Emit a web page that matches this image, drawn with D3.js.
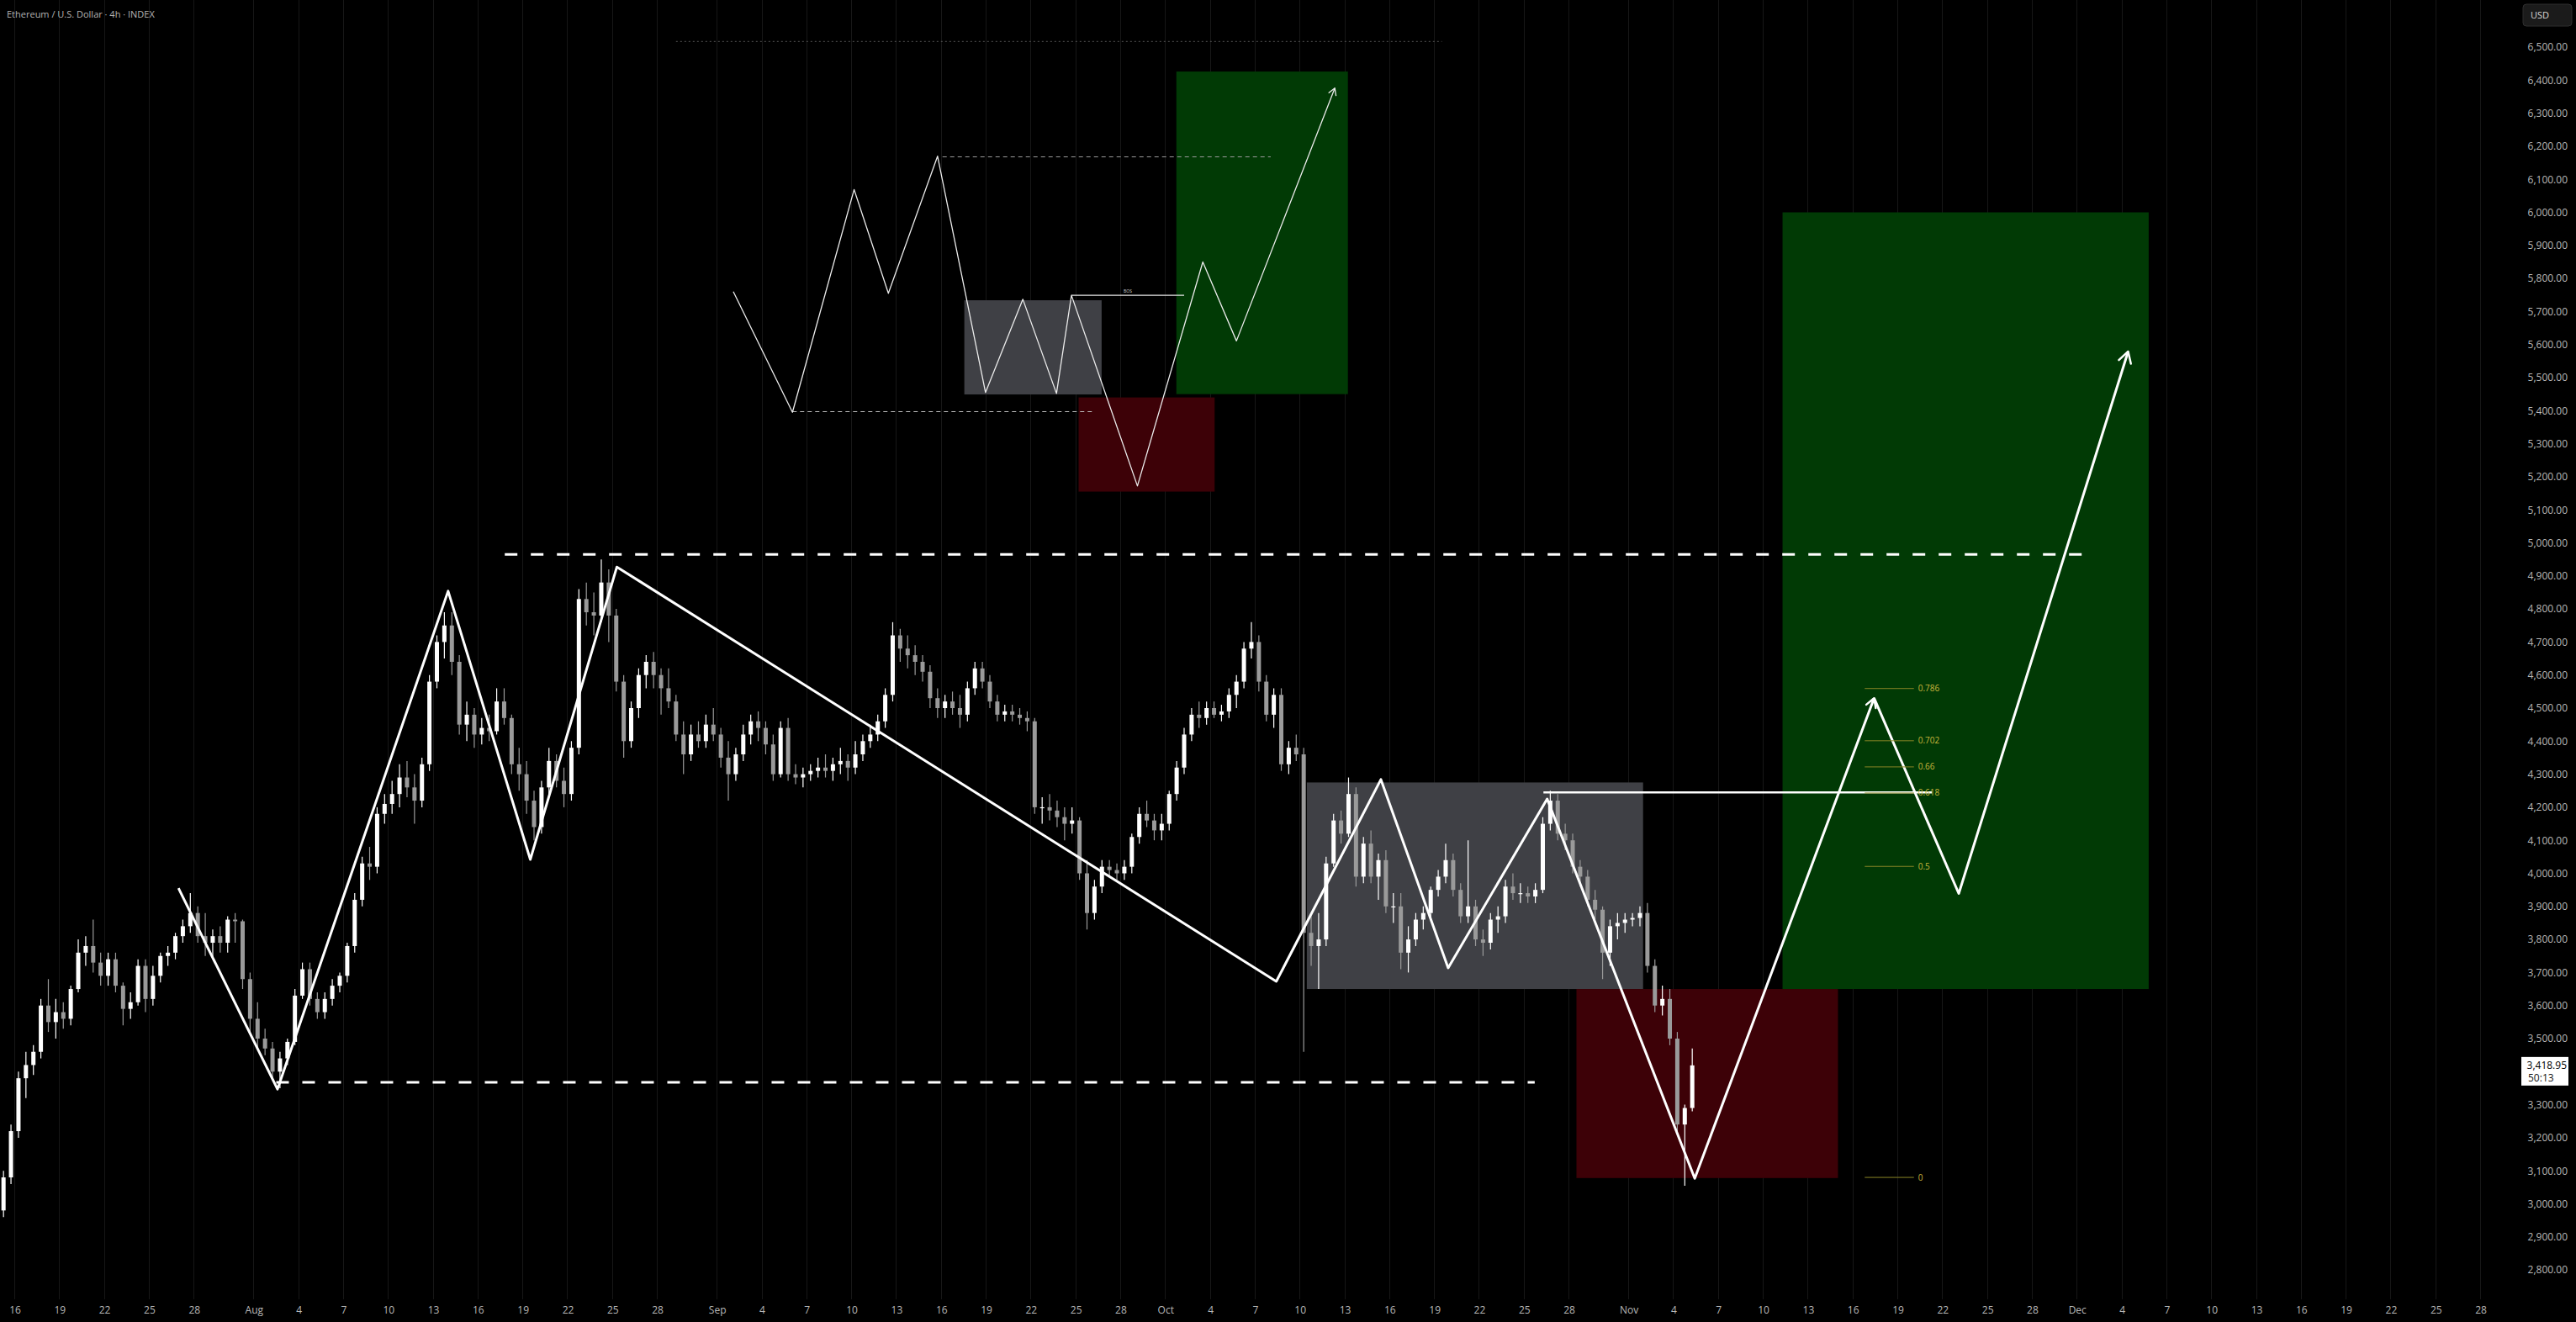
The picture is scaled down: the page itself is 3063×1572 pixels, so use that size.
<!DOCTYPE html>
<html><head><meta charset="utf-8">
<script src="https://cdn.jsdelivr.net/npm/d3@7"></script>
<style>html,body{margin:0;padding:0;background:#000;overflow:hidden}svg{display:block}</style>
</head><body>
<svg id="c" width="3063" height="1572"></svg>
<script>
// ---------------- DATA ----------------
const title = "Ethereum / U.S. Dollar · 4h · INDEX";
const candleStart = "2025-07-15T00:00:00Z";
const candleHours = 12;
// [open, high, low, close] per 12h bar
const candles = [
[2980,3100,2960,3080],[3080,3240,3060,3220],
[3220,3400,3200,3380],[3380,3460,3320,3420],
[3420,3480,3390,3460],[3460,3620,3440,3600],
[3600,3680,3520,3550],[3550,3620,3500,3580],
[3580,3610,3530,3560],[3560,3660,3540,3650],
[3650,3800,3640,3760],[3760,3810,3720,3780],
[3780,3860,3700,3730],[3730,3760,3660,3690],
[3690,3760,3660,3740],[3740,3760,3640,3660],
[3660,3670,3540,3590],[3590,3640,3560,3610],
[3610,3740,3600,3720],[3720,3740,3580,3620],
[3620,3720,3600,3690],[3690,3760,3670,3750],
[3750,3780,3720,3760],[3760,3820,3740,3810],
[3810,3860,3790,3840],[3840,3940,3820,3880],
[3880,3900,3790,3810],[3810,3880,3750,3790],
[3790,3830,3740,3810],[3810,3840,3760,3790],
[3790,3870,3760,3860],[3860,3880,3790,3855],
[3855,3860,3650,3680],[3680,3700,3520,3560],
[3560,3610,3470,3500],[3500,3530,3450,3470],
[3470,3490,3380,3400],[3400,3460,3350,3440],
[3440,3500,3420,3490],[3490,3650,3480,3630],
[3630,3730,3620,3710],[3710,3730,3600,3620],
[3620,3640,3560,3580],[3580,3640,3560,3620],
[3620,3680,3600,3660],[3660,3700,3640,3690],
[3690,3790,3670,3780],[3780,3940,3760,3920],
[3920,4050,3900,4030],[4030,4080,3980,4020],
[4020,4200,4000,4180],[4180,4240,4150,4210],
[4210,4280,4180,4240],[4240,4330,4200,4290],
[4290,4340,4230,4260],[4260,4300,4150,4220],
[4220,4350,4200,4330],[4330,4600,4310,4580],
[4580,4720,4560,4700],[4700,4790,4650,4750],
[4750,4790,4600,4640],[4640,4660,4420,4450],
[4450,4520,4400,4480],[4480,4500,4380,4420],
[4420,4470,4390,4440],[4440,4480,4400,4430],
[4430,4560,4420,4520],[4520,4560,4450,4470],
[4470,4480,4300,4330],[4330,4380,4250,4300],
[4300,4340,4180,4220],[4220,4250,4100,4140],
[4140,4280,4120,4260],[4260,4380,4230,4340],
[4340,4360,4260,4280],[4280,4320,4200,4240],
[4240,4400,4220,4380],[4380,4860,4360,4830],
[4830,4880,4750,4790],[4790,4850,4720,4780],
[4780,4950,4760,4880],[4880,4920,4700,4780],
[4780,4800,4550,4580],[4580,4600,4350,4400],
[4400,4520,4380,4500],[4500,4620,4470,4600],
[4600,4660,4560,4640],[4640,4670,4560,4600],
[4600,4620,4480,4560],[4560,4620,4500,4520],
[4520,4540,4400,4420],[4420,4460,4300,4360],
[4360,4450,4340,4420],[4420,4460,4380,4400],
[4400,4480,4380,4450],[4450,4500,4400,4420],
[4420,4440,4320,4350],[4350,4400,4220,4300],
[4300,4380,4280,4360],[4360,4450,4340,4420],
[4420,4480,4390,4460],[4460,4490,4400,4440],
[4440,4460,4360,4390],[4390,4420,4280,4300],
[4300,4460,4290,4440],[4440,4470,4280,4300],
[4300,4330,4270,4290],[4290,4320,4260,4300],
[4300,4330,4280,4310],[4310,4350,4290,4320],
[4320,4360,4290,4310],[4310,4350,4280,4330],
[4330,4380,4300,4340],[4340,4360,4280,4320],
[4320,4400,4300,4360],[4360,4420,4340,4400],
[4400,4450,4380,4420],[4420,4480,4400,4460],
[4460,4560,4440,4540],[4540,4760,4520,4720],
[4720,4740,4640,4680],[4680,4720,4620,4660],
[4660,4690,4600,4640],[4640,4660,4580,4610],
[4610,4630,4500,4530],[4530,4560,4470,4500],
[4500,4540,4470,4520],[4520,4550,4480,4500],
[4500,4540,4440,4480],[4480,4580,4460,4560],
[4560,4640,4540,4620],[4620,4640,4560,4580],
[4580,4600,4500,4520],[4520,4540,4460,4480],
[4480,4510,4460,4490],[4490,4510,4460,4480],
[4480,4500,4450,4470],[4470,4490,4430,4460],
[4460,4470,4180,4200],[4200,4230,4150,4200],
[4200,4240,4160,4190],[4190,4220,4140,4170],
[4170,4200,4100,4150],[4150,4200,4120,4160],
[4160,4170,3980,4000],[4000,4040,3830,3880],
[3880,3980,3860,3960],[3960,4040,3940,4020],
[4020,4040,3990,4010],[4010,4030,3980,4000],
[4000,4040,3980,4020],[4020,4120,4000,4110],
[4110,4200,4090,4180],[4180,4220,4140,4160],
[4160,4180,4100,4130],[4130,4180,4100,4150],
[4150,4250,4130,4240],[4240,4340,4220,4320],
[4320,4440,4300,4420],[4420,4500,4400,4480],
[4480,4520,4440,4470],[4470,4520,4450,4500],
[4500,4520,4470,4480],[4480,4510,4460,4490],
[4490,4560,4470,4540],[4540,4600,4500,4580],
[4580,4700,4560,4680],[4680,4760,4650,4700],
[4700,4720,4550,4580],[4580,4600,4460,4480],
[4480,4560,4440,4540],[4540,4560,4310,4330],
[4330,4400,4300,4380],[4380,4420,4340,4360],
[4360,4380,3460,3820],[3820,3870,3720,3780],
[3780,3880,3650,3800],[3800,4050,3780,4030],
[4030,4180,4020,4160],[4160,4190,4090,4120],
[4120,4290,4110,4240],[4240,4260,3960,3990],
[3990,4110,3970,4090],[4090,4130,3970,3990],
[3990,4060,3920,4040],[4040,4070,3880,3900],
[3900,3940,3850,3900],[3900,3940,3710,3760],
[3760,3840,3700,3800],[3800,3880,3780,3860],
[3860,3900,3830,3880],[3880,3960,3860,3950],
[3950,4010,3930,3990],[3990,4090,3970,4040],
[4040,4060,3930,3950],[3950,3970,3850,3870],
[3870,4100,3850,3900],[3900,3920,3780,3800],
[3800,3830,3750,3790],[3790,3880,3770,3860],
[3860,3900,3820,3870],[3870,3980,3850,3960],
[3960,4000,3920,3940],[3940,3970,3910,3940],
[3940,3960,3910,3930],[3930,3970,3910,3950],
[3950,4170,3940,4150],[4150,4250,4130,4220],
[4220,4240,4100,4120],[4120,4150,4070,4100],
[4100,4120,4000,4020],[4020,4040,3960,3990],
[3990,4010,3900,3920],[3920,3950,3860,3890],
[3890,3900,3680,3760],[3760,3860,3720,3840],
[3840,3880,3800,3850],[3850,3880,3820,3860],
[3860,3880,3840,3865],[3865,3900,3840,3880],
[3880,3910,3700,3720],[3720,3740,3580,3600],
[3600,3660,3570,3620],[3620,3650,3480,3500],
[3500,3520,3220,3240],[3240,3300,3055,3290],
[3290,3470,3280,3419]
];
const lastPrice = 3418.95;
const countdown = "50:13";

// 3,400 is hidden behind the last-price label in the reference
const priceTicks = [2800,2900,3000,3100,3200,3300,3500,3600,3700,3800,3900,4000,4100,4200,4300,4400,4500,4600,4700,4800,4900,5000,5100,5200,5300,5400,5500,5600,5700,5800,5900,6000,6100,6200,6300,6400,6500];
const timeTickDates = ["2025-07-16","2025-07-19","2025-07-22","2025-07-25","2025-07-28","2025-08-01","2025-08-04","2025-08-07","2025-08-10","2025-08-13","2025-08-16","2025-08-19","2025-08-22","2025-08-25","2025-08-28","2025-09-01","2025-09-04","2025-09-07","2025-09-10","2025-09-13","2025-09-16","2025-09-19","2025-09-22","2025-09-25","2025-09-28","2025-10-01","2025-10-04","2025-10-07","2025-10-10","2025-10-13","2025-10-16","2025-10-19","2025-10-22","2025-10-25","2025-10-28","2025-11-01","2025-11-04","2025-11-07","2025-11-10","2025-11-13","2025-11-16","2025-11-19","2025-11-22","2025-11-25","2025-11-28","2025-12-01","2025-12-04","2025-12-07","2025-12-10","2025-12-13","2025-12-16","2025-12-19","2025-12-22","2025-12-25","2025-12-28"];
const timeTickLabels = ["16","19","22","25","28","Aug","4","7","10","13","16","19","22","25","28","Sep","4","7","10","13","16","19","22","25","28","Oct","4","7","10","13","16","19","22","25","28","Nov","4","7","10","13","16","19","22","25","28","Dec","4","7","10","13","16","19","22","25","28"];

// main drawings (time, price)
const zigzagMain = [["2025-07-26T23:00Z",3955],["2025-08-02T14:00Z",3347],["2025-08-14T00:00Z",4854],["2025-08-19T12:00Z",4042],["2025-08-25T07:00Z",4927],["2025-10-08T10:00Z",3673],["2025-10-15T10:00Z",4284],["2025-10-19T22:00Z",3714],["2025-10-26T13:00Z",4225],["2025-11-05T10:00Z",3077],["2025-11-17T10:00Z",4530]];
const zigzagProjection = [["2025-11-17T10:00Z",4530],["2025-11-23T02:00Z",3939],["2025-12-04T10:00Z",5579]];
const upperDashed = [["2025-08-17T19:00Z",4965],["2025-12-01T14:00Z",4965]];
const lowerDashed = [["2025-08-02T12:00Z",3368],["2025-10-25T17:00Z",3368]];
const rangeHighLine = [["2025-10-26T07:00Z",4245],["2025-11-21T07:00Z",4245]];
const rangeBox = {t0:"2025-10-10T11:00Z", t1:"2025-11-01T23:00Z", p0:3650, p1:4275};
const stopBox = {t0:"2025-10-28T12:00Z", t1:"2025-11-15T00:00Z", p0:3078, p1:3650};
const targetBox = {t0:"2025-11-11T07:00Z", t1:"2025-12-05T19:00Z", p0:3650, p1:6000};
const fibLevels = [0, 0.5, 0.618, 0.66, 0.702, 0.786];
const fibLabels = ["0","0.5","0.618","0.66","0.702","0.786"];
const fibLow = 3080, fibHigh = 4962;
const fibSpan = ["2025-11-16T19:00Z","2025-11-20T02:00Z"];

// inset schematic (time, price)
const insetPath = [["2025-09-02T02:00Z",5760],["2025-09-06T01:00Z",5395],["2025-09-10T04:00Z",6069],["2025-09-12T11:00Z",5755],["2025-09-15T18:00Z",6170],["2025-09-18T23:00Z",5455],["2025-09-21T11:00Z",5737],["2025-09-23T17:00Z",5452],["2025-09-24T17:00Z",5749],["2025-09-29T03:00Z",5172],["2025-10-03T12:00Z",5850],["2025-10-05T18:00Z",5611],["2025-10-12T08:00Z",6376]];
const insetGray = {t0:"2025-09-17T13:00Z", t1:"2025-09-26T17:30Z", p0:5449, p1:5734};
const insetRed = {t0:"2025-09-25T04:30Z", t1:"2025-10-04T07:00Z", p0:5155, p1:5440};
const insetGreen = {t0:"2025-10-01T17:30Z", t1:"2025-10-13T05:00Z", p0:5450, p1:6426};
const insetHighDashed = [["2025-09-16T02:00Z",6168],["2025-10-08T01:00Z",6168]];
const insetLowDashed = [["2025-09-06T01:00Z",5397],["2025-09-26T07:00Z",5397]];
const insetBreakLine = [["2025-09-24T17:00Z",5749],["2025-10-02T06:00Z",5749]];
const insetBreakText = "BOS";
const topDotted = [["2025-08-29T06:00Z",6517],["2025-10-19T12:00Z",6517]];

// ---------------- CHART ----------------
const svg = d3.select("#c");
const W = 3063, H = 1572, plotBottom = 1545;
svg.append("rect").attr("width",W).attr("height",H).attr("fill","#000");

const x = d3.scaleUtc().domain([new Date("2025-07-16T00:00:00Z"), new Date("2025-12-28T00:00:00Z")]).range([17.5, 2949.55]);
const y = d3.scaleLinear().domain([2800, 6500]).range([1510.1, 56]);
const T = s => new Date(s);
const FONT = "'Open Sans', 'DejaVu Sans', sans-serif";

// grid
const tickDates = timeTickDates.map(s => new Date(s + "T00:00:00Z"));
svg.append("g").selectAll("line").data(tickDates).join("line")
  .attr("x1", d => x(d)).attr("x2", d => x(d)).attr("y1", 0).attr("y2", plotBottom)
  .attr("stroke", "#171717").attr("stroke-width", 1).attr("shape-rendering","crispEdges");

const plot = svg.append("g");
function box(b, fill){
  plot.append("rect").attr("x", x(T(b.t0))).attr("width", x(T(b.t1)) - x(T(b.t0)))
    .attr("y", y(b.p1)).attr("height", y(b.p0) - y(b.p1)).attr("fill", fill);
}
box(rangeBox, "#3f4045");
box(stopBox, "#3d0107");
box(targetBox, "#013a05");
box(insetGray, "#3f4045");
box(insetRed, "#3d0107");
box(insetGreen, "#013a05");

// candles
const t0 = new Date(candleStart).getTime();
const HR = 3600e3;
const cg = plot.append("g");
candles.forEach((c, i) => {
  const t = new Date(t0 + (i * candleHours + candleHours / 2) * HR);
  const cx = x(t);
  const up = c[3] >= c[0];
  const col = up ? "#ffffff" : "#9a9a9a";
  cg.append("line").attr("x1", cx).attr("x2", cx).attr("y1", y(c[1])).attr("y2", y(c[2]))
    .attr("stroke", col).attr("stroke-width", 1.2);
  const top = y(Math.max(c[0], c[3])), bot = y(Math.min(c[0], c[3]));
  cg.append("rect").attr("x", cx - 2.5).attr("width", 5).attr("y", top).attr("height", Math.max(1.2, bot - top)).attr("fill", col);
});

const line = d3.line().x(d => x(T(d[0]))).y(d => y(d[1]));
function path(data, stroke, width, dash){
  const p = plot.append("path").attr("d", line(data)).attr("fill","none").attr("stroke", stroke)
    .attr("stroke-width", width).attr("stroke-linejoin","round").attr("stroke-linecap","butt");
  if (dash) p.attr("stroke-dasharray", dash);
  return p;
}
function arrowHead(data, stroke, width, len){
  const n = data.length;
  const px = x(T(data[n-1][0])), py = y(data[n-1][1]);
  const qx = x(T(data[n-2][0])), qy = y(data[n-2][1]);
  const a = Math.atan2(py - qy, px - qx);
  const a1 = a + Math.PI * 5 / 6, a2 = a - Math.PI * 5 / 6;
  plot.append("path")
    .attr("d", `M${px + len*Math.cos(a1)},${py + len*Math.sin(a1)}L${px},${py}L${px + len*Math.cos(a2)},${py + len*Math.sin(a2)}`)
    .attr("fill","none").attr("stroke", stroke).attr("stroke-width", width).attr("stroke-linejoin","round").attr("stroke-linecap","round");
}

// inset schematic
path(topDotted, "#555", 1, "2,3");
path(insetHighDashed, "#9a9a9a", 1.2, "5,4");
path(insetLowDashed, "#bdbdbd", 1.2, "5,4");
path(insetBreakLine, "#e6e6e6", 1.2);
plot.append("text").attr("x", x(T(insetBreakLine[0][0])) + 0.5*(x(T(insetBreakLine[1][0])) - x(T(insetBreakLine[0][0]))))
  .attr("y", y(insetBreakLine[0][1]) - 3).attr("text-anchor","middle").attr("font-size", 5).attr("font-family", FONT)
  .attr("fill", "#cfcfcf").text(insetBreakText);
path(insetPath, "#ececec", 1.3);
arrowHead(insetPath, "#ececec", 1.3, 9);

// main drawings
path(upperDashed, "#ffffff", 3, "15,16");
path(lowerDashed, "#ffffff", 3, "15,16");
path(rangeHighLine, "#ffffff", 2.5);
path(zigzagMain, "#ffffff", 3);
arrowHead(zigzagMain, "#ffffff", 2.5, 12);
path(zigzagProjection, "#ffffff", 3);
arrowHead(zigzagProjection, "#ffffff", 2.5, 15);

// fib
const fg = plot.append("g");
fibLevels.forEach((lv, i) => {
  const p = fibLow + lv * (fibHigh - fibLow);
  fg.append("line").attr("x1", x(T(fibSpan[0]))).attr("x2", x(T(fibSpan[1]))).attr("y1", y(p)).attr("y2", y(p))
    .attr("stroke", "#8a8526").attr("stroke-width", 1);
  fg.append("text").attr("x", x(T(fibSpan[1])) + 5).attr("y", y(p)).attr("dy", "0.35em")
    .attr("font-size", 10).attr("font-family", FONT).attr("fill", "#c8b53c").text(fibLabels[i]);
});

// axes
const yAxis = d3.axisRight(y).tickValues(priceTicks).tickFormat(d3.format(",.2f")).tickSize(0).tickPadding(0);
const ya = svg.append("g").attr("transform", `translate(3053,0)`).call(yAxis);
ya.select(".domain").remove();
ya.selectAll("text").attr("text-anchor","end").attr("x", 0).attr("font-size", 12).attr("font-family", FONT).attr("fill", "#b8b8b8");

const xAxis = d3.axisBottom(x).tickValues(tickDates).tickFormat((d, i) => timeTickLabels[i]).tickSize(0).tickPadding(0);
const xa = svg.append("g").attr("transform", `translate(0,${plotBottom})`).call(xAxis);
xa.select(".domain").remove();
xa.selectAll("text").attr("y", 13).attr("dy", "0.35em").attr("font-size", 12).attr("font-family", FONT).attr("fill", "#b8b8b8");

// last price label
const ly = y(lastPrice);
svg.append("rect").attr("x", 2998).attr("y", ly - 10).attr("width", 56).attr("height", 34).attr("fill", "#ffffff");
svg.append("text").attr("x", 3052).attr("y", ly).attr("dy","0.35em").attr("text-anchor","end").attr("font-size", 12)
  .attr("font-family", FONT).attr("fill", "#000").text(d3.format(",.2f")(lastPrice));
svg.append("text").attr("x", 3006).attr("y", ly + 15).attr("dy","0.35em").attr("font-size", 12)
  .attr("font-family", FONT).attr("fill", "#111").text(countdown);

// USD button
svg.append("rect").attr("x", 3000).attr("y", 5).attr("width", 58).attr("height", 26).attr("rx", 4)
  .attr("fill", "#1b1b1b").attr("stroke", "#2f2f2f");
svg.append("text").attr("x", 3020).attr("y", 18).attr("dy","0.35em").attr("text-anchor","middle").attr("font-size", 11)
  .attr("font-family", FONT).attr("fill", "#dadada").text("USD");

// title
svg.append("text").attr("x", 8).attr("y", 17).attr("dy","0.35em").attr("font-size", 11).attr("font-family", FONT)
  .attr("fill", "#b4b4b4").text(title);
</script>
</body></html>
